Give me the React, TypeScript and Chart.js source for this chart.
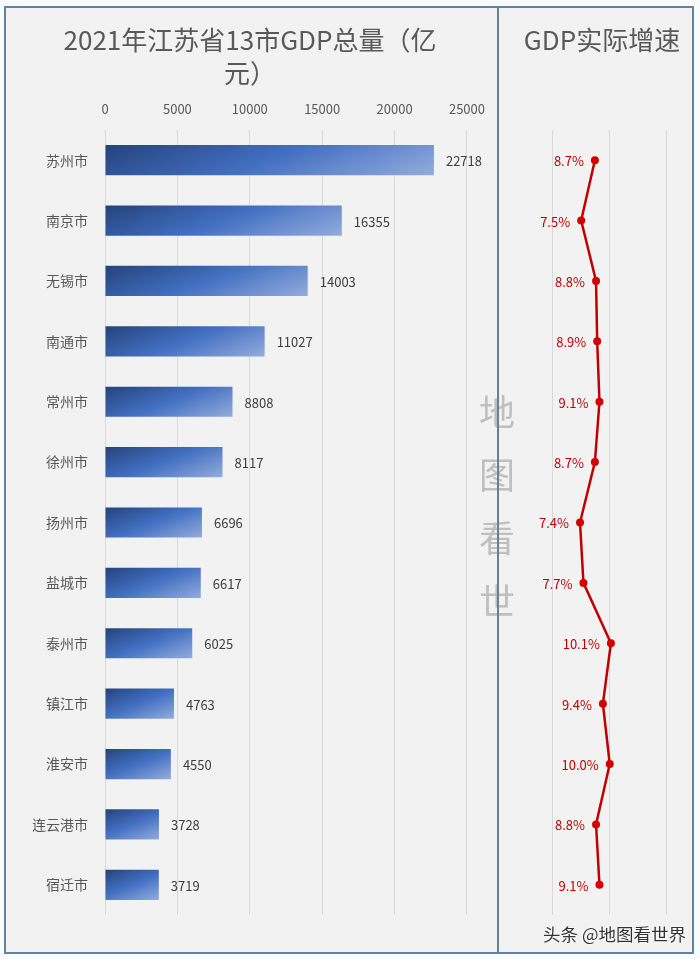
import React, { useEffect, useRef } from "react";
import { Chart, registerables } from "chart.js";
Chart.register(...registerables);

const cities = ["苏州市", "南京市", "无锡市", "南通市", "常州市", "徐州市", "扬州市", "盐城市", "泰州市", "镇江市", "淮安市", "连云港市", "宿迁市"];
const gdpValues = [22718, 16355, 14003, 11027, 8808, 8117, 6696, 6617, 6025, 4763, 4550, 3728, 3719];
const growthValues = [8.7, 7.5, 8.8, 8.9, 9.1, 8.7, 7.4, 7.7, 10.1, 9.4, 10.0, 8.8, 9.1];
const gdpTickValues = [0, 5000, 10000, 15000, 20000, 25000];
const growthGridValues = [5, 10, 15];
const leftTitle = ["2021年江苏省13市GDP总量（亿", "元）"];
const rightTitle = "GDP实际增速";
const watermarkChars = ["地", "图", "看", "世"];
const signature = "头条 @地图看世界";

const FONT = '"Noto Sans CJK SC", "Noto Sans", sans-serif';
const GRID = "#d9d9d9";
const TEXT = "#595959";
const RED = "#c00000";

const barLabelPlugin = {
  id: "barLabels",
  afterDatasetsDraw(chart: any) {
    const ctx = chart.ctx;
    const meta = chart.getDatasetMeta(0);
    ctx.save();
    ctx.font = `13px ${FONT}`;
    ctx.fillStyle = "#404040";
    ctx.textAlign = "left";
    ctx.textBaseline = "middle";
    meta.data.forEach((el: any, i: number) => {
      ctx.fillText(String(gdpValues[i]), el.x + 12, el.y + 1);
    });
    ctx.restore();
  },
};

const pointLabelPlugin = {
  id: "pointLabels",
  afterDatasetsDraw(chart: any) {
    const ctx = chart.ctx;
    const meta = chart.getDatasetMeta(0);
    ctx.save();
    ctx.font = `13px ${FONT}`;
    ctx.fillStyle = RED;
    ctx.textAlign = "right";
    ctx.textBaseline = "middle";
    meta.data.forEach((el: any, i: number) => {
      ctx.fillText(growthValues[i].toFixed(1) + "%", el.x - 11, el.y + 1);
    });
    ctx.restore();
  },
};

function barGradient(c: any) {
  const chart = c.chart;
  const xs = chart.scales?.x;
  const ys = chart.scales?.y;
  if (!chart.chartArea || !xs || !ys || c.type !== "data") return "#4472c4";
  const v = c.raw as number;
  const x0 = xs.getPixelForValue(0);
  const x1 = xs.getPixelForValue(v);
  const yc = ys.getPixelForValue(c.dataIndex);
  const h = 30;
  const w = x1 - x0;
  const top = yc - h / 2;
  const k = 2.5;
  const t = (w + k * h) / (1 + k * k);
  const g = chart.ctx.createLinearGradient(x0, top, x0 + t, top + k * t);
  g.addColorStop(0, "#24437c");
  g.addColorStop(0.5, "#4370c2");
  g.addColorStop(1, "#93acdc");
  return g;
}

export default function App() {
  const leftRef = useRef<HTMLCanvasElement>(null);
  const rightRef = useRef<HTMLCanvasElement>(null);

  useEffect(() => {
    const left = new Chart(leftRef.current!, {
      type: "bar",
      data: {
        labels: cities,
        datasets: [
          {
            data: gdpValues,
            backgroundColor: barGradient as any,
            borderWidth: 0,
            barPercentage: 0.5,
            categoryPercentage: 1,
          },
        ],
      },
      options: {
        indexAxis: "y",
        animation: false,
        responsive: false,
        devicePixelRatio: 1,
        layout: { padding: { left: 27, right: 31, top: 0, bottom: 36 } },
        plugins: {
          legend: { display: false },
          tooltip: { enabled: false },
          title: {
            display: true,
            text: leftTitle,
            color: TEXT,
            font: { family: FONT, size: 26, weight: "normal", lineHeight: 33 / 26 },
            padding: { top: 15.5, bottom: 10.5 },
          },
        },
        scales: {
          x: {
            position: "top",
            min: 0,
            max: 25000,
            afterBuildTicks: (s: any) => {
              s.ticks = gdpTickValues.map((v) => ({ value: v }));
            },
            afterFit: (s: any) => {
              s.height = 30;
            },
            ticks: {
              color: TEXT,
              font: { family: FONT, size: 13 },
              padding: 13,
              maxRotation: 0,
              callback: (v: any) => String(v),
            },
            grid: { color: GRID, drawTicks: false, lineWidth: 1 },
            border: { display: false },
          },
          y: {
            afterFit: (s: any) => {
              s.width = 72;
            },
            ticks: { color: TEXT, font: { family: FONT, size: 14 }, padding: 17 },
            grid: { display: false, drawTicks: false },
            border: { display: false },
          },
        },
      },
      plugins: [barLabelPlugin],
    });

    const right = new Chart(rightRef.current!, {
      type: "line",
      data: {
        labels: cities,
        datasets: [
          {
            data: growthValues,
            borderColor: RED,
            borderWidth: 2.5,
            pointRadius: 4,
            pointBackgroundColor: "#d40000",
            pointBorderColor: "#d40000",
            pointBorderWidth: 0,
            tension: 0,
          },
        ],
      },
      options: {
        indexAxis: "y",
        animation: false,
        responsive: false,
        devicePixelRatio: 1,
        layout: { padding: { left: 12, right: 0, top: 0, bottom: 36 } },
        plugins: {
          legend: { display: false },
          tooltip: { enabled: false },
          title: {
            display: true,
            text: rightTitle,
            color: TEXT,
            font: { family: FONT, size: 26, weight: "normal", lineHeight: 33 / 26 },
            padding: { top: 15.5, bottom: 73.5 },
          },
        },
        scales: {
          x: {
            type: "linear",
            position: "top",
            min: 1.453,
            max: 16.84,
            afterBuildTicks: (s: any) => {
              s.ticks = growthGridValues.map((v) => ({ value: v }));
            },
            afterFit: (s: any) => {
              s.height = 0;
            },
            ticks: { display: false },
            grid: { color: GRID, drawTicks: false, lineWidth: 1 },
            border: { display: false },
          },
          y: {
            type: "category",
            display: false,
            offset: true,
          },
        },
      },
      plugins: [pointLabelPlugin],
    });

    return () => {
      left.destroy();
      right.destroy();
    };
  }, []);

  return (
    <div style={{ position: "absolute", left: 0, top: 0, width: 700, height: 959, background: "#f7fbfe", overflow: "hidden" }}>
      <div
        style={{
          position: "absolute",
          left: 4,
          top: 6,
          width: 690,
          height: 948,
          boxSizing: "border-box",
          border: "2px solid #62839f",
          background: "#f2f2f2",
        }}
      />
      <canvas ref={leftRef} width={492} height={943} style={{ position: "absolute", left: 6, top: 8, width: 492, height: 943 }} />
      <canvas ref={rightRef} width={192} height={943} style={{ position: "absolute", left: 500, top: 8, width: 192, height: 943 }} />
      <div
        style={{
          position: "absolute",
          left: 479,
          top: 379,
          width: 36,
          fontFamily: FONT,
          fontSize: 36,
          lineHeight: "63px",
          textAlign: "center",
          color: "rgba(150,150,150,0.55)",
        }}
      >
        {watermarkChars.map((ch, i) => (
          <div key={i}>{ch}</div>
        ))}
      </div>
      <div style={{ position: "absolute", left: 497, top: 6, width: 2, height: 948, background: "#5f82a3" }} />
      <div
        style={{
          position: "absolute",
          left: 520,
          top: 922,
          width: 166,
          textAlign: "right",
          fontFamily: FONT,
          fontSize: 17.5,
          lineHeight: "24px",
          color: "#333333",
          textShadow: "0 0 2px #fff, 0 0 2px #fff, 0 0 1px #fff",
          whiteSpace: "nowrap",
        }}
      >
        {signature}
      </div>
    </div>
  );
}
